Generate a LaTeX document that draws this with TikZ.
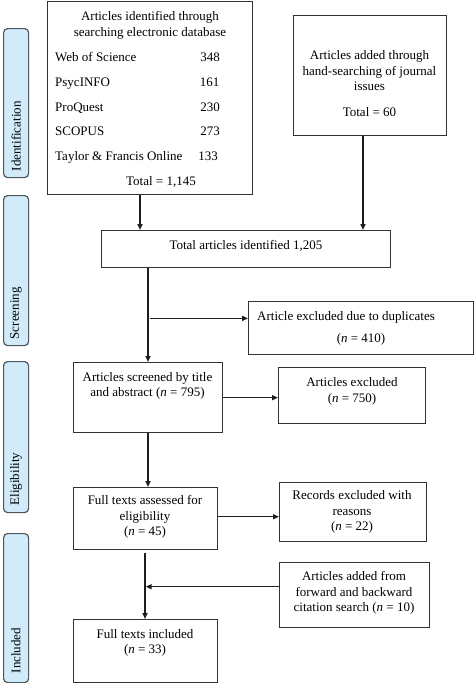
\documentclass[tikz,border=0pt]{standalone}
\usepackage{fontspec}
\setmainfont{Liberation Serif}
\usetikzlibrary{arrows.meta}
\definecolor{boxc}{HTML}{333333}
\definecolor{arrc}{HTML}{1E1E1E}
\definecolor{phasefill}{HTML}{D1EBFA}
\definecolor{phasec}{HTML}{4E585E}
\begin{document}
\begin{tikzpicture}[x=1pt,y=-1pt,
  box/.style={draw=boxc, line width=1.4pt, inner sep=0pt, anchor=north west},
  txt/.style={inner sep=0pt, align=center, font=\fontsize{13}{15.5}\selectfont},
  rowtxt/.style={inner sep=0pt, font=\fontsize{13}{15.5}\selectfont},
  phase/.style={draw=phasec, fill=phasefill, line width=1.2pt, rounded corners=4pt, inner sep=0pt, anchor=north west, minimum width=25pt},
  plabel/.style={rotate=90, anchor=west, inner sep=0pt, font=\fontsize{13}{15}\selectfont},
  arr/.style={draw=arrc, line width=1.5pt, -{Triangle[length=6pt,width=5pt]}}]
\useasboundingbox (0,0) rectangle (474,683);
\clip (0,0) rectangle (474,683);

% phase labels
\node[phase, minimum height=149pt] (p1) at (3,28) {};
\node[phase, minimum height=150pt] (p2) at (3,195) {};
\node[phase, minimum height=151pt] (p3) at (3,361) {};
\node[phase, minimum height=149pt] (p4) at (3,533) {};
\node[plabel] (p1t) at (16,171.5) {Identification};
\node[plabel] (p2t) at (16,339.5) {Screening};
\node[plabel] (p3t) at (16,505.5) {Eligibility};
\node[plabel] (p4t) at (16,673.5) {Included};

% boxes
\node[box, minimum width=205pt, minimum height=193pt] (lb) at (47,1) {};
\node[box, minimum width=153pt, minimum height=120pt] (rb) at (293,15) {};
\node[box, minimum width=289pt, minimum height=37pt] (total) at (101,230) {};
\node[box, minimum width=225pt, minimum height=53pt] (dup) at (248,301) {};
\node[box, minimum width=149pt, minimum height=70pt] (scr) at (73,362) {};
\node[box, minimum width=147pt, minimum height=56pt] (exc) at (278,367) {};
\node[box, minimum width=144pt, minimum height=62pt] (ft) at (73,487) {};
\node[box, minimum width=147pt, minimum height=59pt] (rec) at (279,482) {};
\node[box, minimum width=150pt, minimum height=65pt] (add) at (279,562) {};
\node[box, minimum width=144pt, minimum height=63pt] (inc) at (73,619) {};

% left box content
\node[rowtxt, anchor=base] (lbh1) at (150,20.7) {Articles identified through};
\node[rowtxt, anchor=base] (lbh2) at (150,36.5) {searching electronic database};
\node[rowtxt, anchor=base west] (r1a) at (55,61.5) {Web of Science};
\node[rowtxt, anchor=base east] (r1b) at (220,61.5) {348};
\node[rowtxt, anchor=base west] (r2a) at (55,86.5) {PsycINFO};
\node[rowtxt, anchor=base east] (r2b) at (219.5,86.5) {161};
\node[rowtxt, anchor=base west] (r3a) at (55,111.5) {ProQuest};
\node[rowtxt, anchor=base east] (r3b) at (220,111.5) {230};
\node[rowtxt, anchor=base west] (r4a) at (55,135.5) {SCOPUS};
\node[rowtxt, anchor=base east] (r4b) at (220,135.5) {273};
\node[rowtxt, anchor=base west] (r5a) at (55,160.5) {Taylor \& Francis Online};
\node[rowtxt, anchor=base east] (r5b) at (218,160.5) {133};
\node[rowtxt, anchor=base] (lbt) at (161,185) {Total = 1,145};

% other texts
\node[txt] (rbt) at (369.5,71) {Articles added through\\hand-searching of journal\\issues};
\node[txt] (rbt2) at (369.5,112) {Total = 60};
\node[txt] (totalt) at (246,246) {Total articles identified 1,205};
\node[txt, anchor=west] (dupt1) at (257,317) {Article excluded due to duplicates};
\node[txt] (dupt2) at (361,339) {(\textit{n} = 410)};
\node[txt] (scrt) at (147.5,386) {Articles screened by title\\and abstract (\textit{n} = 795)};
\node[txt] (exct) at (352,391.5) {Articles excluded\\(\textit{n} = 750)};
\node[txt] (ftt) at (145,517) {Full texts assessed for\\eligibility\\(\textit{n} = 45)};
\node[txt] (rect) at (352,512) {Records excluded with\\reasons\\(\textit{n} = 22)};
\node[txt] (addt) at (354,593) {Articles added from\\forward and backward\\citation search (\textit{n} = 10)};
\node[txt] (inct) at (145,643) {Full texts included\\(\textit{n} = 33)};

% connectors
\draw[arr] ([xshift=93pt]lb.south west) -- ([xshift=93pt]lb.south west |- total.north);
\draw[arr] ([xshift=70pt]rb.south west) -- ([xshift=70pt]rb.south west |- total.north);
\draw[arr] ([xshift=47pt]total.south west) -- ([xshift=47pt]total.south west |- scr.north);
\coordinate (br) at ([xshift=49pt,yshift=-50pt]total.south west);
\draw[arr] (br) -- (br -| dup.west);
\draw[arr] (scr.east) -- (scr.east -| exc.west);
\draw[arr] ([xshift=75pt]scr.south west) -- ([xshift=75pt]scr.south west |- ft.north);
\draw[arr] ([yshift=2pt]ft.east) -- ([yshift=2pt]ft.east -| rec.west);
\draw[arr] ([xshift=72pt,yshift=-3pt]ft.south west) -- ([xshift=72pt]ft.south west |- inc.north);
\draw[arr] ([yshift=8.5pt]add.west) -- ([yshift=8.5pt]add.west -| inc.north);
\end{tikzpicture}
\end{document}
